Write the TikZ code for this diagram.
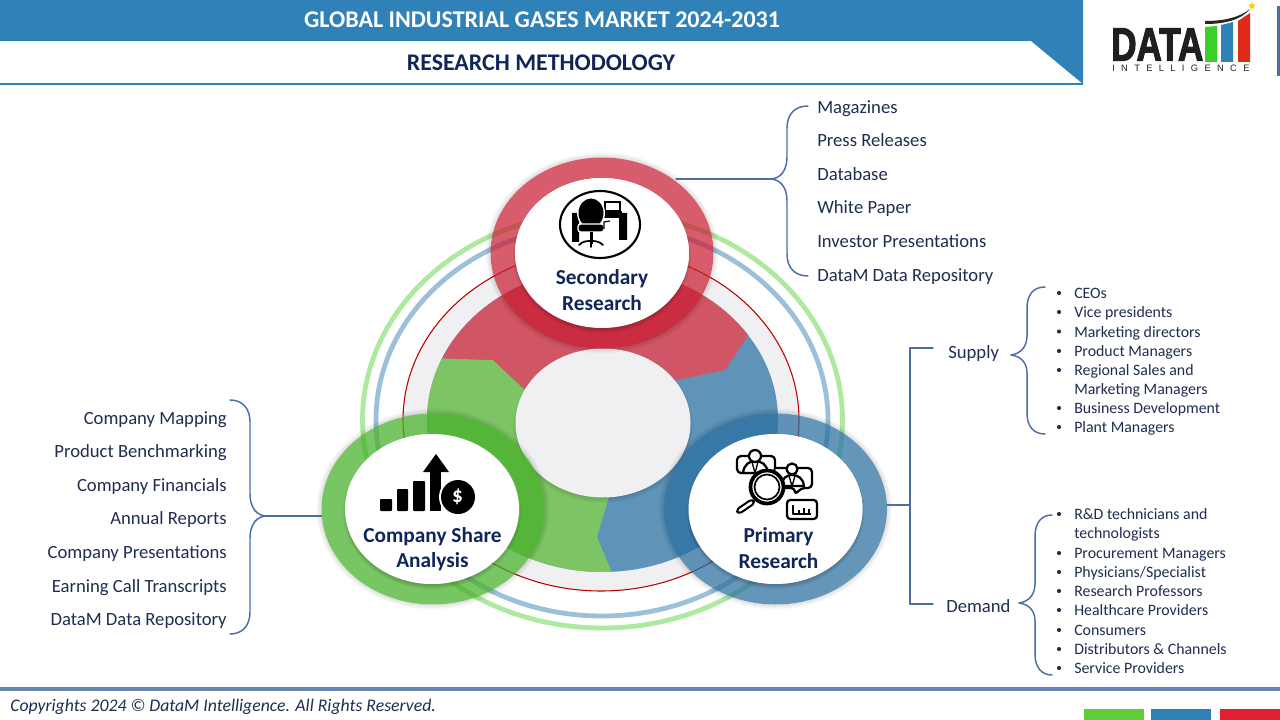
\documentclass[tikz,border=0pt]{standalone}
\usepackage{fontspec}
\setmainfont{Carlito}
\newfontfamily\logofont[FakeStretch=0.75,FakeBold=2.2]{Liberation Sans Bold}
\newfontfamily\taglinefont[LetterSpace=68]{Liberation Sans}
\usetikzlibrary{shapes.geometric,shapes.misc,calc}
\definecolor{hdrblue}{HTML}{2F81B7}
\definecolor{navy}{HTML}{10265A}
\definecolor{listtext}{HTML}{1F2E50}
\definecolor{bracecol}{HTML}{4A6FA5}
\definecolor{ringred}{HTML}{C81E34}
\definecolor{ringgreen}{HTML}{45B028}
\definecolor{ringblue}{HTML}{296EA0}
\definecolor{piered}{HTML}{D05565}
\definecolor{piegreen}{HTML}{7CC464}
\definecolor{pieblue}{HTML}{5F93B8}
\definecolor{diskgray}{HTML}{F0EFF2}
\definecolor{halogreen}{HTML}{ADE99E}
\definecolor{haloblue}{HTML}{9CC0DA}
\definecolor{barGreen}{HTML}{5ECF3A}
\definecolor{barRed}{HTML}{E0202F}
\definecolor{logoGreen}{HTML}{3CCF2A}
\definecolor{logoRed}{HTML}{E22A1A}
\newcommand\softshadow[5]{\foreach \k in {0,...,6}{\fill[black,opacity=#5] (#1,#2) ellipse [x radius={#3+6-\k}, y radius={#4+6-\k}];}}
\newcommand\ringshadow[4]{\foreach \k in {1,...,5}{\fill[black,opacity=.025,even odd rule] (#1,#2) ellipse [x radius={#3+\k}, y radius={#4+\k}] (#1,#2) ellipse [x radius=#3, y radius=#4];}}
\newcommand\ringfill[3]{\fill[#1,opacity=.72,even odd rule] (#2,#3) ellipse [x radius=111.5, y radius=95.5] (#2,#3) ellipse [x radius=87, y radius=75];}
\tikzset{
  x=.75pt,y=-.75pt,
  bracket line/.style={draw=bracecol,line width=1.1pt,line cap=round,line join=round},
  whitedisc/.style={ellipse,fill=white,minimum width=130.5pt,minimum height=112.5pt,inner sep=0pt},
  ringnode/.style={ellipse,minimum width=167pt,minimum height=143pt,inner sep=0pt},
  bigitem/.style={text=listtext,inner sep=0pt,yshift=-1.5pt,font=\fontsize{14pt}{16pt}\selectfont,execute at begin node=\strut},
  smallitem/.style={text=listtext,inner sep=0pt,yshift=-1.5pt,anchor=west,align=left,font=\fontsize{11.9pt}{14.4pt}\selectfont,execute at begin node=\strut},
  dotitem/.style={inner sep=0pt,anchor=center,circle,fill=listtext,minimum size=3.1pt},
  disclabel/.style={text=navy,align=center,inner sep=0pt,font=\fontsize{16pt}{19pt}\bfseries\selectfont},
  iconline/.style={draw=black,line width=1.7pt,line cap=round,line join=round,fill=white},
}
\begin{document}
\begin{tikzpicture}
\useasboundingbox (0,0) rectangle (1280,720);
\fill[white] (0,0) rectangle (1280,720);
% header
\fill[hdrblue] (0,0) -- (1083,0) -- (1083,84) -- (1031,41) -- (0,41) -- cycle;
\fill[hdrblue] (0,83.5) rectangle (1083,85);
\node[text=white,inner sep=0pt,font=\fontsize{18pt}{20pt}\bfseries\selectfont] (title) at (542,20) {GLOBAL INDUSTRIAL GASES MARKET 2024-2031};
\node[text=navy,inner sep=0pt,font=\fontsize{17.9pt}{20pt}\bfseries\selectfont] (subtitle) at (541,63) {RESEARCH METHODOLOGY};
% logo
\node[text=black!88,inner sep=0pt,anchor=base west,font=\fontsize{35pt}{36pt}\logofont] (logodata) at (1111,60.5) {DATA};
\fill[logoGreen] (1205,27) -- (1217,26) -- (1217,62) -- (1205,62) -- cycle;
\fill[hdrblue] (1221,25) -- (1233,22) -- (1233,62) -- (1221,62) -- cycle;
\fill[logoRed] (1238,21) -- (1250,13) -- (1250,62) -- (1238,62) -- cycle;
\fill[black!85] (1205,21) .. controls (1225,21) and (1240,17) .. (1250,9) .. controls (1241,20) and (1225,24) .. (1205,24) -- cycle;
\node[star,star points=5,fill=yellow!70!orange,inner sep=0pt,minimum size=5pt] (logostar) at (1252,6) {};
\node[text=black!85,inner sep=0pt,anchor=base west,font=\fontsize{7pt}{8pt}\taglinefont] (logotag) at (1112,72) {INTELLIGENCE};
\fill[bracecol] (1277,6) rectangle (1280,76);
% footer
\fill[bracecol!85!white] (0,687) rectangle (1280,691);
\node[text=listtext,inner sep=0pt,anchor=west,yshift=-1.5pt,font=\fontsize{13.3pt}{15pt}\itshape\selectfont] (copy) at (10,705) {Copyrights 2024 © DataM Intelligence. All Rights Reserved.};
\fill[barGreen] (1084,709) rectangle (1144,720);
\fill[hdrblue] (1151,709) rectangle (1211,720);
\fill[barRed] (1220,709) rectangle (1280,720);
% big rings
\fill[diskgray] (601,420) ellipse [x radius=198, y radius=171];
\draw[halogreen,line width=3.6pt] (602.5,420) ellipse [x radius=240, y radius=208];
\draw[haloblue,line width=3.6pt] (602,420) ellipse [x radius=226, y radius=196];
\draw[red!75!black,line width=.8pt] (601,420) ellipse [x radius=198, y radius=171];
% pie
\begin{scope}
\clip (602.5,420) ellipse [x radius=175.5, y radius=152];
\fill[pieblue] (420,250) rectangle (790,580);
\fill[piegreen] (400,357) -- (493,360) -- (523,388) -- (603,423) -- (609,497) -- (597,537) -- (615,580) -- (400,600) -- cycle;
\fill[piered] (400,357) -- (493,360) -- (523,388) -- (603,423) -- (677,380) -- (725,370) -- (755,325) -- (790,200) -- (400,200) -- cycle;
\end{scope}
\softshadow{603}{426}{84}{71}{.025}
\fill[diskgray] (603,423) ellipse [x radius=87.5, y radius=74.5];
% discs and rings
\ringshadow{602}{253}{111.5}{95.5}
\ringshadow{433}{509}{111.5}{95.5}
\ringshadow{775.5}{509}{111.5}{95.5}
\ringfill{ringred}{602}{253}
\ringfill{ringgreen}{433}{509}
\ringfill{ringblue}{775.5}{509}
\node[ringnode] (secring) at (602,253) {};
\node[ringnode] (comring) at (433,509) {};
\node[ringnode] (priring) at (775.5,509) {};
\softshadow{602}{256}{83}{71}{.045}
\softshadow{432}{512}{83}{71}{.045}
\softshadow{775.5}{512}{83}{71}{.045}
\node[whitedisc] (secdisc) at (602,253) {};
\node[whitedisc] (comdisc) at (432,509) {};
\node[whitedisc] (pridisc) at (775.5,509) {};
\node[disclabel] (seclabel) at (602,290) {Secondary\\Research};
\node[disclabel] (comlabel) at (432.5,549.5) {Company Share\\Analysis};
\node[disclabel] (prilabel) at (778.5,548) {Primary\\Research};
% desk icon
\draw[black,line width=1.6pt] (600,224.5) ellipse [x radius=40, y radius=33.5];
\fill[black] (572,213) -- (627,213) -- (627,240) -- (619,240) -- (619,218) -- (579,218) -- (579,242) -- (572,242) -- cycle;
\draw[black,line width=.8pt] (605,202) rectangle (620,211);
\fill[black] (603,211) rectangle (622,213);
\fill[white] (591,213) ellipse [x radius=14, y radius=16];
\fill[black] (591,213) ellipse [x radius=12.5, y radius=14.5];
\draw[white,line width=1pt,fill=black,rounded corners=2pt] (578,224) rectangle (604,232);
\fill[black] (589.5,232) rectangle (592.5,244);
\draw[black,line width=1.3pt,line cap=round] (579,245) .. controls (583,241) and (587,241) .. (591,241) .. controls (595,241) and (599,241) .. (603,245) (591,241) -- (591,247);
\draw[black,line width=.9pt] (610,221) -- (604,222) -- (604,229);
% bars icon
\fill[black,rounded corners=.7pt] (380,499) rectangle (392,511);
\fill[black,rounded corners=.7pt] (397,489) rectangle (408,511);
\fill[black,rounded corners=.7pt] (413,481) rectangle (425,511);
\fill[black] (430,472) rectangle (441,511);
\fill[black] (436,454) -- (449,472) -- (423,472) -- cycle;
\fill[white] (458,497) circle [radius=19];
\fill[black] (458,497) circle [radius=17];
\node[text=white,inner sep=0pt,font=\fontsize{16pt}{16pt}\bfseries\selectfont] (dollar) at (457.5,497) {\$};
% people icon
\draw[iconline,rounded corners=3pt] (737,456) rectangle (775,473);
\draw[iconline,rounded corners=3pt] (775,468) -- (812,468) -- (812,488) -- (801,488) -- (795,495) -- (795,488) -- (780,488);
\draw[iconline] (743,473) .. controls (744,464) and (750,461) .. (755,461) .. controls (761,461) and (767,464) .. (768,473) -- cycle;
\draw[black,line width=1pt] (752,462) -- (755,473) -- (758,462);
\draw[iconline] (755,456) circle [radius=6];
\draw[iconline] (781,486) .. controls (782,478) and (787,475) .. (792,475) .. controls (798,475) and (803,478) .. (804,486) -- cycle;
\draw[black,line width=1pt] (789,476) -- (792,486) -- (795,476);
\draw[iconline] (792,469) circle [radius=5.5];
\draw[iconline,line width=1.5pt,rounded corners=2.5pt] (739,514) -- (736,510) -- (752,499) -- (755,503) -- cycle;
\draw[iconline,line width=2.8pt] (767,487) circle [radius=16.5];
\draw[black,line width=1.3pt] (767,487) circle [radius=12.5];
\draw[iconline,rounded corners=2.5pt] (787,500) rectangle (817,519);
\draw[black,line width=1.3pt,line join=round] (793,505) -- (793,514) -- (811,514) (799,514) -- (799,510) (804,514) -- (804,508) (809,514) -- (809,509);
% right top list
\foreach \n/\t/\y in {a/Magazines/107,b/Press Releases/140,c/Database/174,d/White Paper/207,e/Investor Presentations/241,f/DataM Data Repository/275}
  \node[bigitem,anchor=west] (sec\n) at (817,\y) {\t};
% left list
\foreach \n/\t/\y in {a/Company Mapping/418,b/Product Benchmarking/451,c/Company Financials/485,d/Annual Reports/518,e/Company Presentations/552,f/Earning Call Transcripts/586,g/DataM Data Repository/619}
  \node[bigitem,anchor=east] (com\n) at (227,\y) {\t};
% supply and demand
\node[bigitem,anchor=west] (supply) at (948,352) {Supply};
\node[bigitem,anchor=west] (demand) at (946,606) {Demand};
\foreach \n/\t/\y in {a/CEOs/293,b/Vice presidents/312,c/Marketing directors/331.5,d/Product Managers/351,f/Business Development/408,g/Plant Managers/427}{
  \node[smallitem] (sup\n) at (1074,\y) {\t};
  \node[dotitem] (supdot\n) at (1059,\y) {};}
\node[smallitem] (supe) at (1074,380) {Regional Sales and\\\strut Marketing Managers};
\node[dotitem] (supdote) at (1059,370) {};
\node[smallitem] (dema) at (1074,524.5) {R\&D technicians and\\\strut technologists};
\node[dotitem] (demdota) at (1059,514) {};
\foreach \n/\t/\y in {b/Procurement Managers/553,c/Physicians\slash Specialist/572,d/Research Professors/591,e/Healthcare Providers/610,f/Consumers/630,g/Distributors \& Channels/649,h/Service Providers/668}{
  \node[smallitem] (dem\n) at (1074,\y) {\t};
  \node[dotitem] (demdot\n) at (1059,\y) {};}
% connectors
\coordinate (sectail) at (676,179);
\coordinate (sectip) at (770,179);
\coordinate (sectop) at (808,106);
\coordinate (secbot) at (808,276);
\draw[bracket line] (sectail) -- (sectip);
\draw[bracket line] (sectop) .. controls (795,106) and (787,114) .. (787,128) -- (787,157) .. controls (787,171) and (780,179) .. (sectip) .. controls (780,179) and (787,187) .. (787,201) -- (787,254) .. controls (787,268) and (795,276) .. (secbot);
\coordinate (comtip) at (267,516);
\coordinate (comtop) at (230,400);
\coordinate (combot) at (230,634);
\draw[bracket line] (comtip -| comring.west) -- (comtip);
\draw[bracket line] (comtop) .. controls (242,400) and (250,408) .. (250,422) -- (250,494) .. controls (250,508) and (257,516) .. (comtip) .. controls (257,516) and (250,524) .. (250,538) -- (250,612) .. controls (250,626) and (242,634) .. (combot);
\coordinate (brk) at (910,505);
\coordinate (brktop) at (910,348);
\coordinate (brkbot) at (910,604);
\coordinate (brktopend) at (933,348);
\coordinate (brkbotend) at (933,604);
\draw[bracket line] (brk -| priring.east) -- (brk);
\draw[bracket line] (brktopend) -- (brktop) -- (brkbot) -- (brkbotend);
\coordinate (suptip) at (1011,355);
\coordinate (suptop) at (1045,287);
\coordinate (supbot) at (1045,434);
\draw[bracket line] (suptop) .. controls (1034,287) and (1027,294) .. (1027,308) -- (1027,336) .. controls (1027,347) and (1020,354) .. (suptip) .. controls (1020,356) and (1027,362) .. (1027,373) -- (1027,413) .. controls (1027,427) and (1034,434) .. (supbot);
\coordinate (demtip) at (1019,603);
\coordinate (demtop) at (1052,515);
\coordinate (dembot) at (1052,675);
\draw[bracket line] (demtop) .. controls (1042,515) and (1035,522) .. (1035,536) -- (1035,584) .. controls (1035,595) and (1028,602) .. (demtip) .. controls (1028,604) and (1035,610) .. (1035,621) -- (1035,654) .. controls (1035,668) and (1042,675) .. (dembot);
\end{tikzpicture}
\end{document}
